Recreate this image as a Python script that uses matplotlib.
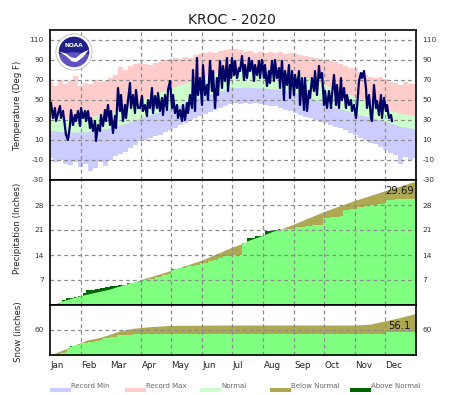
import matplotlib
matplotlib.use("Agg")
import matplotlib.pyplot as plt
from matplotlib.patches import Circle, Wedge, Polygon, Rectangle
from matplotlib.transforms import blended_transform_factory

plt.rcParams["axes.unicode_minus"] = False

# ================= DATOS =================
# dia del anio (0 = 1 de enero)
month_start = [0, 31, 60, 91, 121, 152, 182, 213, 244, 274, 305, 335]
month_names = ["Jan", "Feb", "Mar", "Apr", "May", "Jun",
               "Jul", "Aug", "Sep", "Oct", "Nov", "Dec"]
grid_days = [31, 91, 121, 152, 182, 213, 244, 274, 305, 335]

temp_ticks = [-30, -10, 10, 30, 50, 70, 90, 110]
pcp_ticks = [7, 14, 21, 28]
snow_ticks = [60]

# records diarios (cada 5 dias)
rec_day = list(range(0, 366, 5))
rec_max = [68, 64, 70, 66, 69, 74, 64, 67, 66, 70,
           68, 69, 72, 75, 83, 80, 84, 86, 87, 86,
           85, 87, 88, 90, 91, 92, 91, 93, 92, 95,
           96, 97, 98, 97, 99, 100, 101, 101, 100, 98,
           99, 97, 98, 97, 98, 97, 98, 96, 97, 96,
           95, 94, 93, 92, 91, 90, 89, 88, 86, 84,
           82, 81, 78, 75, 73, 72, 73, 71, 68, 67,
           65, 68, 66, 66]
rec_min = [-8, -12, -10, -14, -15, -12, -17, -14, -21, -18,
           -12, -16, -10, -6, -4, -2, 2, 5, 9, 10,
           12, 14, 15, 18, 20, 22, 25, 27, 30, 32,
           34, 36, 38, 40, 42, 44, 46, 47, 46, 47,
           46, 47, 46, 45, 44, 44, 42, 40, 39, 37,
           35, 33, 32, 30, 28, 27, 25, 23, 22, 20,
           17, 15, 12, 10, 7, 6, 3, 0, -3, -5,
           -14, -7, -10, -8]

# normales
norm_day = [0, 15, 31, 45, 59, 74, 90, 105, 120, 135, 151, 166, 181,
            196, 212, 227, 243, 258, 273, 288, 304, 319, 334, 349, 366]
norm_hi = [34, 32, 32, 34, 37, 42, 50, 56, 62, 67, 72, 77, 81,
           82, 81, 80, 77, 72, 66, 60, 54, 48, 42, 37, 34]
norm_lo = [20, 18, 18, 19, 22, 26, 32, 37, 42, 47, 53, 58, 62,
           63, 62, 61, 58, 53, 47, 42, 37, 33, 29, 24, 21]

# temperatura observada (picos y valles)
obs_day = [1, 3, 5, 6, 10, 11, 13, 16, 18, 20, 21, 23, 25, 26, 28, 30, 31, 33, 35, 36,
           38, 40, 41, 43, 45, 46, 48, 50, 51, 53, 55, 56, 58, 60, 61, 63, 65, 66, 68, 70,
           71, 73, 75, 76, 78, 80, 81, 83, 85, 86, 88,
           90, 92, 93, 95, 97, 98, 100, 102, 103, 105, 107, 108, 110, 112, 113, 115, 117, 118, 120, 122,
           123, 125, 127, 128, 130, 132, 133, 135, 137, 138, 140, 142, 143, 145, 147, 148, 150, 152, 153, 155,
           157, 158, 160, 162, 163, 165, 167, 168, 170, 172, 173, 175, 177, 178, 180, 181,
           182, 184, 185, 187, 189, 190, 192, 194, 195, 197, 199, 200, 202, 204, 205, 207, 209, 210, 212, 214,
           215, 217, 219, 220, 222, 224, 225, 227, 229, 230, 232, 234, 235, 237, 239, 240, 242, 244, 245, 247,
           249, 250, 252, 254, 255, 257, 259, 260, 262, 264, 265, 267, 269, 270, 272, 274, 275, 277,
           279, 281, 282, 284, 286, 287, 289, 291, 292, 294, 296, 297, 299, 301, 302, 304, 306, 307, 309, 311,
           312, 314, 316, 317, 319, 321, 322, 324, 326, 327, 329, 331, 332, 334, 336, 337, 339, 341, 342]
obs_temp = [47, 32, 42, 29, 44, 32, 39, 15, 10, 25, 40, 25, 35, 29, 39, 24, 42, 32, 39, 29,
            39, 22, 32, 19, 29, 9, 25, 19, 35, 24, 40, 29, 45, 25, 39, 17, 34, 22, 62, 39,
            55, 29, 45, 32, 50, 67, 42, 55, 37, 60, 42,
            42, 54, 39, 45, 34, 50, 42, 62, 37, 54, 42, 57, 39, 52, 35, 55, 40, 60, 69, 42,
            55, 37, 45, 32, 40, 29, 45, 30, 47, 37, 55, 42, 80, 39, 92, 55, 72, 45, 85, 55,
            65, 50, 89, 59, 79, 42, 72, 55, 89, 62, 84, 69, 92, 59, 85, 72,
            92, 75, 89, 72, 82, 79, 94, 70, 85, 72, 92, 79, 89, 69, 85, 75, 89, 72, 90, 72,
            85, 64, 79, 67, 89, 69, 90, 72, 82, 62, 89, 50, 79, 65, 85, 52, 79, 55, 75, 62,
            79, 45, 72, 40, 72, 39, 59, 52, 72, 59, 79, 55, 84, 72, 77, 45, 59, 42,
            59, 42, 55, 75, 45, 65, 42, 72, 50, 62, 42, 55, 45, 50, 39, 45, 32, 42, 69, 77,
            72, 79, 62, 42, 55, 32, 29, 65, 42, 49, 35, 55, 32, 52, 39, 45, 32, 35, 29]

# precipitacion acumulada (pulgadas)
pcp_norm_day = [0, 31, 60, 91, 121, 152, 182, 213, 244, 274, 305, 335, 366]
pcp_norm = [0, 2.5, 4.3, 7.1, 9.7, 12.6, 16.2, 19.4, 22.7, 26.2, 29.3, 32.0, 34.7]
pcp_obs_day = [0, 3, 10, 12, 16, 24, 28, 33, 36, 45, 50, 55, 60, 68, 77, 84, 92, 98, 105, 112,
               118, 121, 128, 137, 145, 150, 158, 163, 168, 173, 183, 192, 197, 205, 213, 215, 222, 228, 245, 255,
               262, 273, 280, 290, 293, 300, 307, 315, 320, 328, 335, 345, 366]
pcp_obs = [0, 0.3, 0.8, 1.3, 2.0, 2.3, 2.6, 3.4, 4.1, 4.4, 4.7, 5.0, 5.3, 5.7, 6.1, 6.5, 7.0, 7.4, 7.9, 8.3,
           8.6, 10.2, 10.4, 10.8, 11.3, 11.7, 12.2, 12.7, 13.3, 13.8, 14.1, 17.3, 18.8, 19.2, 19.7, 20.8, 21.0, 21.3, 21.8, 22.2,
           22.5, 24.4, 24.6, 24.8, 26.7, 27.0, 27.4, 27.7, 27.9, 28.2, 29.5, 29.69, 29.69]

# nieve acumulada (pulgadas)
snow_norm_day = [0, 17, 37, 50, 60, 70, 83, 100, 120, 180, 305, 320, 335, 350, 366]
snow_norm = [0, 16, 36, 42, 50, 58, 64, 68, 71, 72, 72, 74, 82, 90, 100]
snow_obs_day = [0, 5, 10, 15, 17, 20, 26, 30, 38, 45, 50, 53, 60, 67, 75, 83, 100, 335, 366]
snow_obs = [0, 2, 4, 8, 13.6, 21.6, 24, 28, 32, 34, 36, 40, 44, 48, 49, 50.4, 51.2, 56.1, 56.1]

# ================= ESTILO =================
C_MIN = "#ccccff"
C_MAX = "#ffcccc"
C_NORM = "#ccffcc"
C_OBS = "#000066"
C_BELOW = "#ada851"
C_ABOVE = "#006400"
C_LIGHT = "#80ff80"
GRID = dict(color="#8c8c8c", lw=0.9, ls=(0, (3, 2.5)), zorder=2)

W, H = 466.0, 395.0


def rect(x0, y0, x1, y1):
    # pixeles (origen arriba a la izquierda) -> fraccion de figura
    return [x0 / W, 1 - y1 / H, (x1 - x0) / W, (y1 - y0) / H]


fig = plt.figure(figsize=(4.66, 3.95), dpi=100)
ax_t = fig.add_axes(rect(50, 30, 416, 180))
ax_p = fig.add_axes(rect(50, 180, 416, 305))
ax_s = fig.add_axes(rect(50, 305, 416, 355))

# ================= TEMPERATURA =================
ax_t.fill_between(rec_day, rec_min, rec_max, step="mid", color=C_MAX, lw=0, zorder=1)
ax_t.fill_between(norm_day, -40, norm_hi, color=C_NORM, lw=0, zorder=1.1)
ax_t.fill_between(norm_day, -40, norm_lo, color=C_MIN, lw=0, zorder=1.2)
ax_t.fill_between(rec_day, -40, rec_min, step="mid", color="white", lw=0, zorder=1.3)
ax_t.plot(obs_day, obs_temp, color=C_OBS, lw=1.6, zorder=3)
for t in temp_ticks[1:]:
    ax_t.axhline(t, **GRID)
ax_t.set_ylim(-30, 120)
ax_t.set_yticks(temp_ticks)


# ================= ACUMULADOS =================
def acumulado(ax, obs_d, obs_v, nrm_d, nrm_v):
    ax.fill_between(obs_d, 0, obs_v, step="post", color=C_ABOVE, lw=0, zorder=1)
    nrm = ax.fill_between(nrm_d, 0, nrm_v, color=C_BELOW, lw=0, zorder=1.1)
    low = ax.fill_between(obs_d, 0, obs_v, step="post", color=C_LIGHT, lw=0, zorder=1.2)
    low.set_clip_path(nrm.get_paths()[0], ax.transData)


acumulado(ax_p, pcp_obs_day, pcp_obs, pcp_norm_day, pcp_norm)
for t in pcp_ticks:
    ax_p.axhline(t, **GRID)
ax_p.set_ylim(0, 35)
ax_p.set_yticks(pcp_ticks)
ax_p.text(364, 31.8, "29.69", ha="right", va="center", fontsize=7.2, color="#111111", zorder=4)

acumulado(ax_s, snow_obs_day, snow_obs, snow_norm_day, snow_norm)
for t in snow_ticks:
    ax_s.axhline(t, **GRID)
ax_s.set_ylim(0, 120)
ax_s.set_yticks(snow_ticks)
ax_s.text(361, 70, "56.1", ha="right", va="center", fontsize=7.2, color="#111111", zorder=4)

for ax in (ax_t, ax_p, ax_s):
    ax.set_xlim(0, 366)
    ax.set_xticks([])
    for d in grid_days:
        ax.axvline(d, **GRID)
    ax.tick_params(axis="y", length=0, labelsize=5.3, labelcolor="#333333",
                   labelright=True, pad=4.5)
    for sp in ax.spines.values():
        sp.set_linewidth(1.2)
        sp.set_zorder(5)

tr = blended_transform_factory(ax_s.transData, ax_s.transAxes)
for d, name in zip(month_start, month_names):
    ax_s.text(d + 0.5, -0.2, name, transform=tr, ha="left", va="center",
              fontsize=6.3, color="#222222")

# ================= TEXTOS =================
fig.text(232 / W, 1 - 20.5 / H, "KROC - 2020", ha="center", va="center",
         fontsize=10, color="#222222")
fig.text(18 / W, 1 - 105 / H, "Temperature (Deg F)", rotation=90,
         ha="center", va="center", fontsize=6.2, color="#222222")
fig.text(18 / W, 1 - 228 / H, "Precipitation (Inches)", rotation=90,
         ha="center", va="center", fontsize=6.2, color="#222222")
fig.text(18 / W, 1 - 332 / H, "Snow (inches)", rotation=90,
         ha="center", va="center", fontsize=6.2, color="#222222")

# leyenda
legend_items = [(50, "Record Min", C_MIN), (125, "Record Max", C_MAX),
                (200, "Normal", C_NORM), (270, "Below Normal", C_BELOW),
                (350, "Above Normal", C_ABOVE)]
for x0, label, color in legend_items:
    fig.patches.append(Rectangle((x0 / W, 1 - 391.5 / H), 21 / W, 3.5 / H,
                                 transform=fig.transFigure, color=color, lw=0))
    fig.text((x0 + 21) / W, 1 - 386.5 / H, label, ha="left", va="center",
             fontsize=5, color="#666666")

# ================= LOGO =================
lax = fig.add_axes(rect(55, 32, 93, 72))
lax.set_xlim(-1.05, 1.05)
lax.set_ylim(-1.05, 1.05)
lax.set_aspect("equal")
lax.axis("off")
lax.add_patch(Circle((0, 0), 1.0, fc="white", ec="#bbbbbb", lw=0.6))
lax.add_patch(Circle((0, 0), 0.84, fc="#6050c0", lw=0))
lax.add_patch(Wedge((0, 0), 0.84, -8, 188, fc="#20208a", lw=0))
lax.add_patch(Polygon([(-0.82, 0.02), (-0.45, -0.08), (-0.15, -0.3), (0.1, -0.33),
                       (0.45, -0.05), (0.82, 0.12), (0.5, -0.28), (0.15, -0.55),
                       (-0.12, -0.52), (-0.4, -0.25)], closed=True, fc="white", lw=0))
lax.text(0, 0.38, "NOAA", ha="center", va="center", fontsize=4.2,
         color="white", fontweight="bold")

fig.savefig("out.png", dpi=100)
